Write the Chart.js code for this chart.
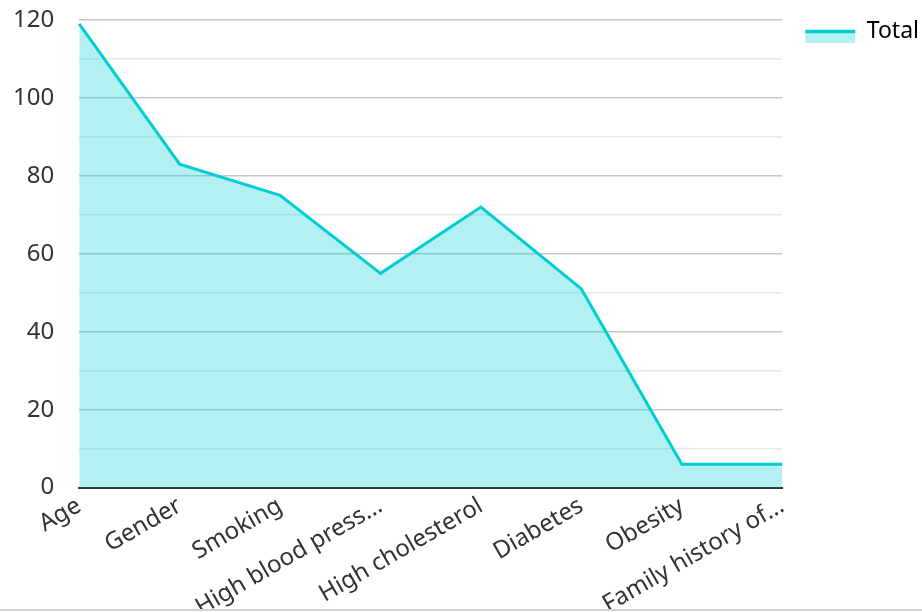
<!DOCTYPE html>
<html>
<head>
<meta charset="utf-8">
<script src="https://cdn.jsdelivr.net/npm/chart.js@4/dist/chart.umd.min.js"></script>
<style>
  html, body { margin: 0; padding: 0; background: #fff; }
  #wrap { position: relative; width: 922px; height: 609px; overflow: hidden; border-bottom: 2px solid #d2d2d2; }
  #box { position: absolute; left: 0; top: 0; width: 922px; height: 626px; }
</style>
</head>
<body>
<div id="wrap"><div id="box"><canvas id="c"></canvas></div></div>
<script>
const categories = ["Age", "Gender", "Smoking", "High blood press...", "High cholesterol", "Diabetes", "Obesity", "Family history of..."];
const totalValues = [119, 83, 75, 55, 72, 51, 6, 6];
const seriesName = "Total";
const yTicks = [0, 20, 40, 60, 80, 100, 120];

const LINE = "rgb(0,206,209)";
const FILL = "rgba(0,206,209,0.3)";

const legendSwatch = {
  id: 'legendSwatch',
  afterDraw(chart) {
    const lg = chart.legend;
    if (!lg || !lg.legendHitBoxes || !lg.legendHitBoxes.length) return;
    const hb = lg.legendHitBoxes[0];
    const bw = lg.options.labels.boxWidth;
    const ctx = chart.ctx;
    ctx.save();
    ctx.fillStyle = FILL;
    ctx.fillRect(hb.left, hb.top + 11.5, bw, 11.5);
    ctx.strokeStyle = LINE;
    ctx.lineWidth = 3.5;
    ctx.beginPath();
    ctx.moveTo(hb.left, hb.top + 11.5);
    ctx.lineTo(hb.left + bw, hb.top + 11.5);
    ctx.stroke();
    ctx.restore();
  }
};

new Chart(document.getElementById('c'), {
  type: 'line',
  data: {
    labels: categories,
    datasets: [{
      label: seriesName,
      data: totalValues,
      borderColor: LINE,
      backgroundColor: FILL,
      borderWidth: 3,
      fill: 'origin',
      tension: 0,
      pointRadius: 0,
      pointHoverRadius: 0
    }]
  },
  options: {
    responsive: true,
    maintainAspectRatio: false,
    animation: false,
    layout: { padding: { left: -12, top: -3, right: -7, bottom: 0 } },
    plugins: {
      tooltip: { enabled: false },
      legend: {
        position: 'right',
        align: 'start',
        labels: {
          boxWidth: 50,
          boxHeight: 12,
          padding: 23,
          color: '#333',
          font: { family: "'Noto Sans'", size: 23 },
          generateLabels() {
            return [{ text: seriesName, fillStyle: 'rgba(0,0,0,0)', strokeStyle: 'rgba(0,0,0,0)', lineWidth: 0, datasetIndex: 0, hidden: false }];
          }
        }
      }
    },
    scales: {
      x: {
        offset: false,
        grid: { display: false, drawTicks: false },
        border: { display: true, color: '#333', width: 2 },
        ticks: {
          color: '#333',
          font: { family: "'Noto Sans'", size: 24 },
          minRotation: 30,
          maxRotation: 30,
          autoSkip: false,
          padding: 4
        },
        afterFit(scale) { scale.paddingLeft = 0; scale.paddingRight = 0; }
      },
      y: {
        min: 0,
        max: 120,
        grid: {
          drawTicks: false,
          color: (ctx) => (ctx.tick && yTicks.includes(ctx.tick.value)) ? '#c8c8c8' : '#e8e8e8',
          lineWidth: 1.5
        },
        border: { display: false },
        ticks: {
          stepSize: 10,
          color: '#333',
          padding: 25,
          font: { family: "'Noto Sans'", size: 24 },
          callback: (v) => yTicks.includes(v) ? String(v) : ''
        },
        afterFit(scale) { scale.paddingTop = 20; scale.paddingBottom = 0; }
      }
    }
  },
  plugins: [legendSwatch]
});
</script>
</body>
</html>
